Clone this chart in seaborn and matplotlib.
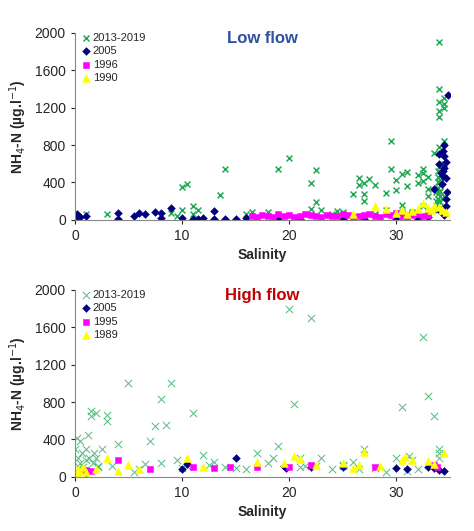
import matplotlib
matplotlib.use("Agg")
from matplotlib import pyplot as plt
import seaborn as sns

# ---- Low flow ----
low_2013_x = [1, 3, 9, 9.5, 10, 10.5, 10, 11, 11, 11.5, 13.5, 14, 16, 16.5, 18, 19, 20, 22, 22.5, 22, 22.5, 23,
              24.5, 26, 26.5, 26.5, 27, 27, 27, 27.5, 28, 29, 29.5, 29.5, 30, 30, 30.5, 30.5, 31, 31, 32, 32, 32.5,
              32.5, 32.5, 33, 33, 33, 33.5, 34, 34, 34, 34, 34, 34, 34, 34, 34, 34, 34, 34.5, 34.5, 34.5, 34.5, 34.5,
              34.5, 34.5, 30.5, 31, 31.5, 32.5, 33, 29, 28, 25, 24,
              33.9, 33.9, 33.9, 33.9, 33.9, 33.9, 33.9, 33.9, 34.1, 34.1, 34.1, 34.1, 34.1, 34.1, 33.7, 33.7]
low_2013_y = [60, 60, 70, 40, 350, 380, 100, 150, 60, 100, 270, 540, 60, 80, 80, 540, 660, 390, 190, 120, 530, 110,
              90, 280, 450, 370, 390, 280, 200, 440, 370, 290, 540, 840, 430, 320, 490, 160, 510, 360, 480, 390, 500,
              540, 420, 260, 330, 460, 720, 1160, 1260, 1400, 1900, 1100, 780, 560, 400, 300, 200, 120, 1240, 1300,
              1200, 840, 600, 450, 250, 80, 60, 80, 150, 90, 100, 60, 80, 60,
              100, 160, 220, 280, 340, 400, 460, 520, 130, 190, 250, 310, 370, 430, 300, 200]
low_2005_x = [0, 0.2, 0.5, 1, 4, 4, 5.5, 6, 6.5, 7.5, 8, 8, 9, 10, 11, 11.5, 12, 13, 13, 14, 15, 16, 19, 21, 25,
              27, 30, 32, 33, 33.5, 34, 34, 34.5, 34.5, 34.2, 34.4, 34.6, 34.8, 34.3, 34.5, 34.7, 34, 34.5,
              34.6, 34.6, 34.6, 34.4, 34.4]
low_2005_y = [20, 60, 30, 40, 70, 10, 40, 70, 60, 80, 20, 70, 130, 20, 10, 10, 20, 90, 10, 10, 10, 20, 10, 5, 10,
              10, 10, 5, 30, 330, 600, 700, 800, 680, 500, 470, 450, 1340, 380, 550, 300, 100, 50,
              150, 220, 620, 520, 740]
low_1996_x = [16.5, 17, 17.5, 18, 18.5, 19, 19.5, 20, 20.5, 21, 21.5, 22, 22.5, 23, 23.5, 24, 24.5, 25, 25.5, 26,
              26.5, 27, 27.5, 28, 28.5, 29, 29.5, 30, 30.5, 31, 31.5, 32, 32.5, 33]
low_1996_y = [40, 30, 50, 40, 30, 60, 40, 50, 30, 40, 60, 50, 40, 30, 50, 40, 40, 60, 50, 30, 40, 50, 60, 40, 30,
              60, 50, 70, 40, 30, 50, 60, 40, 50]
low_1990_x = [26, 28, 29, 30, 30.5, 31, 32, 32.5, 33, 33.5, 34, 34.3, 34.6, 31.5, 33.2]
low_1990_y = [60, 150, 120, 70, 100, 60, 120, 180, 130, 150, 140, 100, 80, 90, 110]

# ---- High flow ----
high_2013_x = [0, 0.2, 0.3, 0.5, 0.5, 0.7, 0.8, 1, 1, 1.2, 1.5, 1.5, 1.7, 2, 2, 2.2, 2.5, 3, 3, 3.5, 1.8, 2.2, 0.4,
               1.3, 5, 6, 7, 7.5, 8, 8.5, 9, 9.5, 10, 11, 12, 13, 14, 15, 16, 17, 18, 18.5, 19, 20, 20.5, 21, 21.5,
               22, 22.5, 23, 24, 25, 26, 26.5, 27, 28, 29, 30, 30.5, 31, 31.5, 32, 32.5, 33, 33.5, 34, 34, 34, 4,
               5.5, 6.5, 8, 10.5, 12.5, 21, 31.2, 25]
high_2013_y = [300, 420, 200, 150, 380, 250, 100, 300, 180, 450, 700, 650, 150, 680, 200, 100, 300, 660, 600, 120,
               250, 120, 100, 200, 1000, 80, 380, 540, 830, 560, 1000, 180, 90, 680, 230, 160, 100, 90, 80, 250, 150,
               200, 330, 1800, 780, 100, 120, 1700, 120, 200, 80, 120, 160, 80, 300, 90, 50, 200, 750, 60, 180, 80,
               1500, 860, 650, 200, 300, 250, 350, 50, 140, 150, 120, 130, 200, 220, 130]
high_2005_x = [0.5, 1, 10, 15, 19.5, 22, 25, 30, 31, 33, 33.5, 34, 34.5, 10.5, 19.7]
high_2005_y = [60, 40, 80, 200, 120, 110, 100, 90, 80, 100, 90, 70, 60, 140, 90]
high_1995_x = [1, 1.5, 4, 7, 11, 13, 14.5, 17, 20, 22, 28, 33.5, 33.8]
high_1995_y = [70, 60, 180, 80, 110, 90, 100, 100, 110, 130, 110, 130, 110]
high_1989_x = [0, 0.3, 0.5, 0.8, 1, 2, 3, 4, 5, 6, 10.5, 12, 17, 19.5, 20.5, 21, 22.5, 25, 26, 26.5, 27,
               28.5, 30.5, 30.8, 31.5, 33, 33.5, 0.2, 34.5]
high_1989_y = [30, 80, 60, 100, 50, 80, 200, 60, 130, 80, 200, 100, 160, 150, 220, 190, 130, 150, 90, 130, 270,
               120, 180, 210, 180, 170, 140, 40, 260]

sns.set_style("white")
plt.rcParams['font.family'] = ['Liberation Sans', 'DejaVu Sans']

fig = plt.figure(figsize=(4.74, 5.31), dpi=100)
ax1 = fig.add_axes([0.158, 0.586, 0.791, 0.352])
ax2 = fig.add_axes([0.158, 0.102, 0.791, 0.352])

green = "#22aa55"
blue = "#000080"
mag = "#ff00ff"
yel = "#ffff00"

sns.scatterplot(x=low_2013_x, y=low_2013_y, ax=ax1, marker="x", color=green, s=18, linewidth=1.1, label="2013-2019")
sns.scatterplot(x=low_2005_x, y=low_2005_y, ax=ax1, marker="D", color=blue, s=16, edgecolor=blue, label="2005")
sns.scatterplot(x=low_1996_x, y=low_1996_y, ax=ax1, marker="s", color=mag, s=22, edgecolor=mag, label="1996")
sns.scatterplot(x=low_1990_x, y=low_1990_y, ax=ax1, marker="^", color=yel, s=30, edgecolor=yel, label="1990")

sns.scatterplot(x=high_2013_x, y=high_2013_y, ax=ax2, marker="x", color="#55bb80", s=28, linewidth=0.7, label="2013-2019")
sns.scatterplot(x=high_2005_x, y=high_2005_y, ax=ax2, marker="D", color=blue, s=16, edgecolor=blue, label="2005")
sns.scatterplot(x=high_1995_x, y=high_1995_y, ax=ax2, marker="s", color=mag, s=22, edgecolor=mag, label="1995")
sns.scatterplot(x=high_1989_x, y=high_1989_y, ax=ax2, marker="^", color=yel, s=30, edgecolor=yel, label="1989")

for ax, title, tcol in [(ax1, "Low flow", "#2f4f9f"), (ax2, "High flow", "#c00000")]:
    ax.set_xlim(0, 35)
    ax.set_ylim(0, 2000)
    ax.set_xticks([0, 10, 20, 30])
    ax.set_yticks([0, 400, 800, 1200, 1600, 2000])
    ax.tick_params(labelsize=10, length=3, direction="out", left=True, bottom=True)
    for s in ["top", "right"]:
        ax.spines[s].set_visible(False)
    for s in ["left", "bottom"]:
        ax.spines[s].set_color("#888888")
    ax.set_xlabel("Salinity", fontsize=10, fontweight="bold")
    ax.set_ylabel("NH$_4$-N (µg.l$^{\\mathrm{-1}}$)", fontsize=10, fontweight="bold")
    ax.text(0.5, 0.97, title, transform=ax.transAxes, ha="center", va="center",
            fontsize=12, fontweight="bold", color=tcol)
    ax.legend(loc="upper left", frameon=False, fontsize=8, handletextpad=0.1,
              borderaxespad=0.1, labelspacing=0.3, handlelength=1, bbox_to_anchor=(0.0, 1.03))

fig.savefig("out.png", dpi=100)
